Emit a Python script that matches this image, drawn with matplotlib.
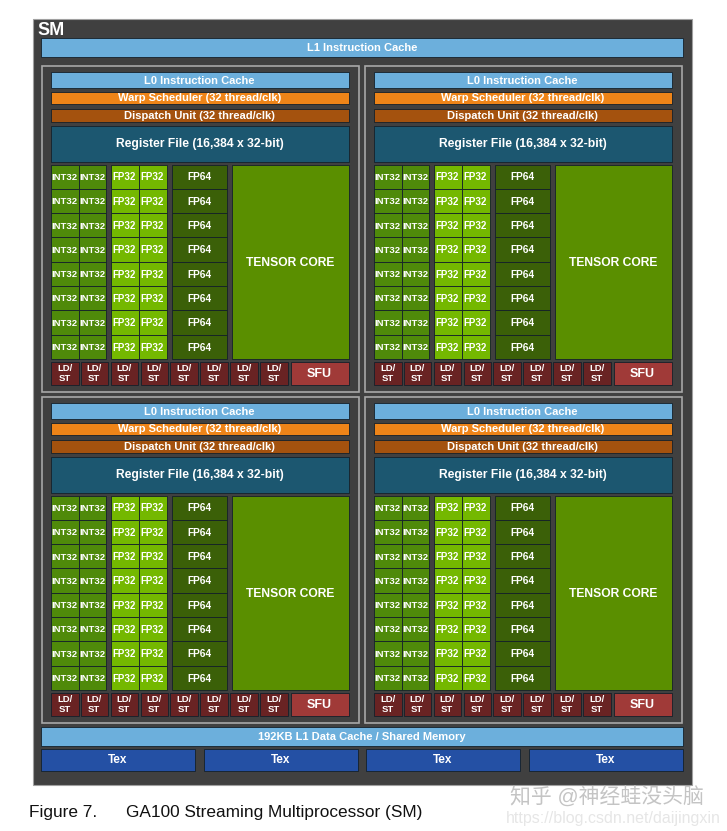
import matplotlib
matplotlib.use('Agg')
import matplotlib.pyplot as plt
from matplotlib.patches import Rectangle

# block labels
sm_title = 'SM'
l1_icache = 'L1 Instruction Cache'
l0_icache = 'L0 Instruction Cache'
warp = 'Warp Scheduler (32 thread/clk)'
dispatch = 'Dispatch Unit (32 thread/clk)'
regfile = 'Register File (16,384 x 32-bit)'
int_label = 'INT32'
fp32_label = 'FP32'
fp64_label = 'FP64'
tensor = 'TENSOR CORE'
ldst = 'LD/\nST'
sfu = 'SFU'
l1_dcache = '192KB L1 Data Cache / Shared Memory'
tex = 'Tex'
caption_a = 'Figure 7.'
caption_b = 'GA100 Streaming Multiprocessor (SM)'
mark_a = '知乎 @神经蛙没头脑'
mark_b = 'https://blog.csdn.net/daijingxin'

# layout in image pixels
panel_x = [0, 323]
panel_y = [0, 331]
row_tops = [165, 189.3, 213.6, 237.9, 262.2, 286.5, 310.8, 335.1]
row_h = 24.3
ldst_x = [51.5, 81, 111, 141, 170.5, 200.5, 230.5, 260.5]
tex_x = [41, 204, 366, 529]

blue = '#6cafdc'
orange = '#ee8418'
brown = '#a4520e'
teal = '#1c5770'
int_c = '#4f8a0a'
fp32_c = '#74b800'
fp64_c = '#3b6008'
tensor_c = '#5a8f00'
ld_c = '#692323'
sfu_c = '#a03a38'
tex_c = '#2450a4'
edge = '#14202a'

plt.rcParams['font.family'] = ['Liberation Sans', 'Noto Sans CJK SC', 'DejaVu Sans']

fig = plt.figure(figsize=(7.27, 8.31), dpi=100)
ax = fig.add_axes([0, 0, 1, 1])
ax.set_xlim(0.5, 727.5)
ax.set_ylim(831.5, 0.5)
ax.axis('off')


def box(x0, y0, x1, y1, color, label=None, size=8, ec=edge, lw=0.6, weight='bold'):
    ax.add_patch(Rectangle((x0, y0), x1 - x0, y1 - y0, fc=color, ec=ec, lw=lw))
    if label:
        # text sits a touch low in the source boxes
        ax.text((x0 + x1) / 2, (y0 + y1) / 2 + 0.8, label, color='white', fontsize=size, fontweight=weight,
                ha='center', va='center', linespacing=1.1)


box(33, 19, 692, 785, '#404040', ec='#a0a0a0', lw=0.8)
ax.text(38, 31, sm_title, color='white', fontsize=13, fontweight='bold', ha='left', va='center')
box(41.5, 38, 683, 57, blue, l1_icache)

for dy in panel_y:
    for dx in panel_x:
        box(42 + dx, 66 + dy, 359 + dx, 392 + dy, '#404040', ec='#a8a8a8', lw=1.2)
        box(51 + dx, 72.5 + dy, 349 + dx, 88 + dy, blue, l0_icache)
        box(51 + dx, 92 + dy, 349 + dx, 104 + dy, orange, warp)
        box(51 + dx, 109 + dy, 349 + dx, 122 + dy, brown, dispatch)
        box(51 + dx, 126 + dy, 349 + dx, 162 + dy, teal, regfile, size=8.7)
        for top in row_tops:
            box(51 + dx, top + dy, 79 + dx, top + row_h + dy, int_c, int_label, size=6.8)
            box(79 + dx, top + dy, 106 + dx, top + row_h + dy, int_c, int_label, size=6.8)
            box(111 + dx, top + dy, 139 + dx, top + row_h + dy, fp32_c, fp32_label, size=7)
            box(139 + dx, top + dy, 167 + dx, top + row_h + dy, fp32_c, fp32_label, size=7)
            box(172 + dx, top + dy, 227 + dx, top + row_h + dy, fp64_c, fp64_label, size=7.3)
        box(232 + dx, 165 + dy, 349 + dx, 359.5 + dy, tensor_c, tensor, size=8.7)
        for lx in ldst_x:
            box(lx + dx, 362 + dy, lx + 27.5 + dx, 385 + dy, ld_c, ldst, size=6.8)
        box(291 + dx, 362 + dy, 349 + dx, 385 + dy, sfu_c, sfu, size=9)

box(41.5, 727, 683, 746, blue, l1_dcache)
for tx in tex_x:
    box(tx, 749, tx + 154, 771, tex_c, tex, size=8.5)

ax.text(29.5, 813, caption_a, color='#111111', fontsize=12.4, ha='left', va='center')
ax.text(126, 813, caption_b, color='#111111', fontsize=12.4, ha='left', va='center')
ax.text(510, 798, mark_a, color='#c4c4c4', fontsize=15, ha='left', va='center')
ax.text(506, 819, mark_b, color='#e6e6e6', fontsize=11.5, ha='left', va='center')

fig.savefig('out.png', dpi=100)
